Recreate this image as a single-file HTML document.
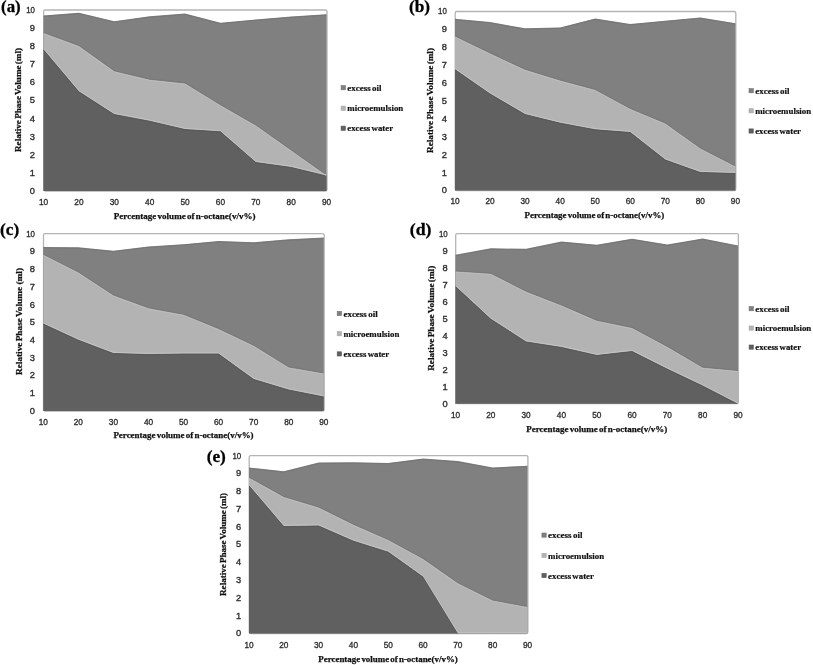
<!DOCTYPE html>
<html><head><meta charset="utf-8"><title>Relative phase volume vs n-octane</title>
<style>
html,body{margin:0;padding:0;background:#fff;width:813px;height:665px;overflow:hidden}
svg{display:block;filter:blur(0.35px)}
.tk{font-family:"Liberation Sans", Arial, sans-serif;font-size:9.3px;fill:#2e2e2e;stroke:#2e2e2e;stroke-width:0.35px}
.tt{font-family:"Liberation Serif", "Times New Roman", serif;font-weight:bold;font-size:8.8px;fill:#111;stroke:#111;stroke-width:0.25px;word-spacing:-1px}
.lg{font-family:"Liberation Serif", "Times New Roman", serif;font-weight:bold;font-size:8.7px;fill:#111;stroke:#111;stroke-width:0.2px;word-spacing:-0.9px}
.pl{font-family:"Liberation Serif", "Times New Roman", serif;font-weight:bold;font-size:17.5px;fill:#000;stroke:#000;stroke-width:0.3px}
</style></head><body>
<svg width="813" height="665" viewBox="0 0 813 665">
<rect width="813" height="665" fill="#fff"/>
<g><clipPath id="clipa"><rect x="43.5" y="10" width="283.1" height="181"/></clipPath><rect x="43.7" y="10" width="283.3" height="181" fill="#fff" stroke="#b4b4b4" stroke-width="1.3" rx="1.5"/><polygon points="43.5,15.43 78.89,12.72 114.28,21.22 149.66,16.33 185.05,13.62 220.44,22.85 255.83,19.41 291.21,16.52 326.6,14.16 326.6,191 43.5,191" fill="#808080"/><polygon points="43.5,32.99 78.89,46.02 114.28,71.36 149.66,79.68 185.05,83.49 220.44,105.21 255.83,125.48 291.21,150.46 326.6,175.62 326.6,191 43.5,191" fill="#b3b3b3"/><polygon points="43.5,49.28 78.89,91.27 114.28,114.08 149.66,120.77 185.05,129.1 220.44,131.27 255.83,162.04 291.21,166.93 326.6,175.62 326.6,191 43.5,191" fill="#606060"/><g clip-path="url(#clipa)"><polyline points="43.5,16.33 78.89,13.62 114.28,22.12 149.66,17.23 185.05,14.52 220.44,23.75 255.83,20.31 291.21,17.42 326.6,15.06" fill="none" stroke="#727272" stroke-width="0.9" stroke-opacity="0.8" stroke-linejoin="round"/><polyline points="43.5,32.19 78.89,45.22 114.28,70.56 149.66,78.88 185.05,82.69 220.44,104.41 255.83,124.68 291.21,149.66 326.6,174.81" fill="none" stroke="#747474" stroke-width="0.9" stroke-opacity="0.6" stroke-linejoin="round"/><polyline points="43.5,33.79 78.89,46.82 114.28,72.16 149.66,80.48 185.05,84.29 220.44,106.01 255.83,126.28 291.21,151.26 326.6,176.42" fill="none" stroke="#bfbfbf" stroke-width="0.9" stroke-opacity="0.8" stroke-linejoin="round"/><polyline points="43.5,48.58 78.89,90.57 114.28,113.38 149.66,120.07 185.05,128.4 220.44,130.57 255.83,161.34 291.21,166.23 326.6,174.92" fill="none" stroke="#c6c6c6" stroke-width="0.9" stroke-opacity="0.9" stroke-linejoin="round"/><polyline points="43.5,50.08 78.89,92.07 114.28,114.88 149.66,121.57 185.05,129.9 220.44,132.07 255.83,162.84 291.21,167.73 326.6,176.42" fill="none" stroke="#565656" stroke-width="0.9" stroke-opacity="0.8" stroke-linejoin="round"/></g><text x="35" y="193.9" text-anchor="end" class="tk">0</text><text x="35" y="175.8" text-anchor="end" class="tk">1</text><text x="35" y="157.7" text-anchor="end" class="tk">2</text><text x="35" y="139.6" text-anchor="end" class="tk">3</text><text x="35" y="121.5" text-anchor="end" class="tk">4</text><text x="35" y="103.4" text-anchor="end" class="tk">5</text><text x="35" y="85.3" text-anchor="end" class="tk">6</text><text x="35" y="67.2" text-anchor="end" class="tk">7</text><text x="35" y="49.1" text-anchor="end" class="tk">8</text><text x="35" y="31" text-anchor="end" class="tk">9</text><text x="35" y="12.9" text-anchor="end" class="tk" textLength="8.8" lengthAdjust="spacingAndGlyphs">10</text><text x="43.5" y="205" text-anchor="middle" class="tk" textLength="9.2" lengthAdjust="spacingAndGlyphs">10</text><text x="78.89" y="205" text-anchor="middle" class="tk" textLength="9.2" lengthAdjust="spacingAndGlyphs">20</text><text x="114.28" y="205" text-anchor="middle" class="tk" textLength="9.2" lengthAdjust="spacingAndGlyphs">30</text><text x="149.66" y="205" text-anchor="middle" class="tk" textLength="9.2" lengthAdjust="spacingAndGlyphs">40</text><text x="185.05" y="205" text-anchor="middle" class="tk" textLength="9.2" lengthAdjust="spacingAndGlyphs">50</text><text x="220.44" y="205" text-anchor="middle" class="tk" textLength="9.2" lengthAdjust="spacingAndGlyphs">60</text><text x="255.83" y="205" text-anchor="middle" class="tk" textLength="9.2" lengthAdjust="spacingAndGlyphs">70</text><text x="291.21" y="205" text-anchor="middle" class="tk" textLength="9.2" lengthAdjust="spacingAndGlyphs">80</text><text x="326.6" y="205" text-anchor="middle" class="tk" textLength="9.2" lengthAdjust="spacingAndGlyphs">90</text><text x="113.8" y="218.6" class="tt" textLength="141.7" lengthAdjust="spacingAndGlyphs">Percentage volume of n-octane(v/v%)</text><text transform="translate(21.2,100) rotate(-90)" x="-52" y="0" class="tt" textLength="104" lengthAdjust="spacingAndGlyphs" xml:space="preserve">Relative Phase Volume (ml)</text><rect x="341.1" y="85.6" width="4.3" height="4.2" fill="#808080" stroke="#707070" stroke-width="0.6"/><text x="347.3" y="90.8" class="lg" textLength="34.3" lengthAdjust="spacingAndGlyphs">excess oil</text><rect x="341.1" y="106.1" width="4.3" height="4.2" fill="#b3b3b3" stroke="#a6a6a6" stroke-width="0.6"/><text x="347.3" y="111.3" class="lg" textLength="56.0" lengthAdjust="spacingAndGlyphs">microemulsion</text><rect x="341.1" y="126.1" width="4.3" height="4.2" fill="#606060" stroke="#555555" stroke-width="0.6"/><text x="347.3" y="131.3" class="lg" textLength="45.8" lengthAdjust="spacingAndGlyphs">excess water</text><text x="1.1" y="12.1" class="pl" textLength="19.6" lengthAdjust="spacingAndGlyphs">(a)</text></g>
<g><clipPath id="clipb"><rect x="455" y="11.5" width="280.4" height="179"/></clipPath><rect x="455.2" y="11.5" width="280.6" height="179" fill="#fff" stroke="#b4b4b4" stroke-width="1.3" rx="1.5"/><polygon points="455,18.84 490.05,22.06 525.1,28.33 560.15,27.43 595.2,18.48 630.25,24.03 665.3,20.63 700.35,17.41 735.4,23.14 735.4,190.5 455,190.5" fill="#808080"/><polygon points="455,36.38 490.05,53.39 525.1,69.85 560.15,80.59 595.2,89.9 630.25,108.88 665.3,123.55 700.35,148.44 735.4,166.51 735.4,190.5 455,190.5" fill="#b3b3b3"/><polygon points="455,69.14 490.05,93.48 525.1,114.07 560.15,122.66 595.2,129.28 630.25,131.97 665.3,159.53 700.35,172.06 735.4,172.96 735.4,190.5 455,190.5" fill="#606060"/><g clip-path="url(#clipb)"><polyline points="455,19.74 490.05,22.96 525.1,29.23 560.15,28.33 595.2,19.38 630.25,24.93 665.3,21.53 700.35,18.31 735.4,24.04" fill="none" stroke="#727272" stroke-width="0.9" stroke-opacity="0.8" stroke-linejoin="round"/><polyline points="455,35.58 490.05,52.59 525.1,69.05 560.15,79.79 595.2,89.1 630.25,108.08 665.3,122.75 700.35,147.63 735.4,165.71" fill="none" stroke="#747474" stroke-width="0.9" stroke-opacity="0.6" stroke-linejoin="round"/><polyline points="455,37.18 490.05,54.19 525.1,70.65 560.15,81.39 595.2,90.7 630.25,109.68 665.3,124.35 700.35,149.24 735.4,167.31" fill="none" stroke="#bfbfbf" stroke-width="0.9" stroke-opacity="0.8" stroke-linejoin="round"/><polyline points="455,68.44 490.05,92.78 525.1,113.37 560.15,121.96 595.2,128.58 630.25,131.27 665.3,158.83 700.35,171.36 735.4,172.26" fill="none" stroke="#c6c6c6" stroke-width="0.9" stroke-opacity="0.9" stroke-linejoin="round"/><polyline points="455,69.94 490.05,94.28 525.1,114.87 560.15,123.46 595.2,130.08 630.25,132.77 665.3,160.33 700.35,172.86 735.4,173.76" fill="none" stroke="#565656" stroke-width="0.9" stroke-opacity="0.8" stroke-linejoin="round"/></g><text x="446.8" y="193.4" text-anchor="end" class="tk">0</text><text x="446.8" y="175.5" text-anchor="end" class="tk">1</text><text x="446.8" y="157.6" text-anchor="end" class="tk">2</text><text x="446.8" y="139.7" text-anchor="end" class="tk">3</text><text x="446.8" y="121.8" text-anchor="end" class="tk">4</text><text x="446.8" y="103.9" text-anchor="end" class="tk">5</text><text x="446.8" y="86" text-anchor="end" class="tk">6</text><text x="446.8" y="68.1" text-anchor="end" class="tk">7</text><text x="446.8" y="50.2" text-anchor="end" class="tk">8</text><text x="446.8" y="32.3" text-anchor="end" class="tk">9</text><text x="446.8" y="14.4" text-anchor="end" class="tk" textLength="8.8" lengthAdjust="spacingAndGlyphs">10</text><text x="455" y="204.4" text-anchor="middle" class="tk" textLength="9.2" lengthAdjust="spacingAndGlyphs">10</text><text x="490.05" y="204.4" text-anchor="middle" class="tk" textLength="9.2" lengthAdjust="spacingAndGlyphs">20</text><text x="525.1" y="204.4" text-anchor="middle" class="tk" textLength="9.2" lengthAdjust="spacingAndGlyphs">30</text><text x="560.15" y="204.4" text-anchor="middle" class="tk" textLength="9.2" lengthAdjust="spacingAndGlyphs">40</text><text x="595.2" y="204.4" text-anchor="middle" class="tk" textLength="9.2" lengthAdjust="spacingAndGlyphs">50</text><text x="630.25" y="204.4" text-anchor="middle" class="tk" textLength="9.2" lengthAdjust="spacingAndGlyphs">60</text><text x="665.3" y="204.4" text-anchor="middle" class="tk" textLength="9.2" lengthAdjust="spacingAndGlyphs">70</text><text x="700.35" y="204.4" text-anchor="middle" class="tk" textLength="9.2" lengthAdjust="spacingAndGlyphs">80</text><text x="735.4" y="204.4" text-anchor="middle" class="tk" textLength="9.2" lengthAdjust="spacingAndGlyphs">90</text><text x="524.6" y="218.2" class="tt" textLength="139.7" lengthAdjust="spacingAndGlyphs">Percentage volume of n-octane(v/v%)</text><text transform="translate(432.6,100.5) rotate(-90)" x="-52.5" y="0" class="tt" textLength="105" lengthAdjust="spacingAndGlyphs" xml:space="preserve">Relative Phase Volume (ml)</text><rect x="749" y="88.6" width="4.3" height="4.2" fill="#808080" stroke="#707070" stroke-width="0.6"/><text x="755.2" y="93.8" class="lg" textLength="34.3" lengthAdjust="spacingAndGlyphs">excess oil</text><rect x="749" y="108.7" width="4.3" height="4.2" fill="#b3b3b3" stroke="#a6a6a6" stroke-width="0.6"/><text x="755.2" y="113.9" class="lg" textLength="56.0" lengthAdjust="spacingAndGlyphs">microemulsion</text><rect x="749" y="128.9" width="4.3" height="4.2" fill="#606060" stroke="#555555" stroke-width="0.6"/><text x="755.2" y="134.1" class="lg" textLength="45.8" lengthAdjust="spacingAndGlyphs">excess water</text><text x="408.9" y="11.9" class="pl" textLength="21.1" lengthAdjust="spacingAndGlyphs">(b)</text></g>
<g><clipPath id="clipc"><rect x="43.3" y="233.7" width="280.5" height="177.3"/></clipPath><rect x="43.5" y="233.7" width="280.7" height="177.3" fill="#fff" stroke="#b4b4b4" stroke-width="1.3" rx="1.5"/><polygon points="43.3,247 78.36,247.35 113.42,250.72 148.49,246.47 183.55,244.16 218.61,240.97 253.68,242.21 288.74,239.37 323.8,237.6 323.8,411 43.3,411" fill="#808080"/><polygon points="43.3,254.8 78.36,272.53 113.42,295.4 148.49,308.34 183.55,314.73 218.61,329.09 253.68,345.75 288.74,367.38 323.8,373.41 323.8,411 43.3,411" fill="#b3b3b3"/><polygon points="43.3,323.59 78.36,339.73 113.42,353.02 148.49,354.09 183.55,353.55 218.61,353.55 253.68,378.91 288.74,389.55 323.8,396.46 323.8,411 43.3,411" fill="#606060"/><g clip-path="url(#clipc)"><polyline points="43.3,247.9 78.36,248.25 113.42,251.62 148.49,247.37 183.55,245.06 218.61,241.87 253.68,243.11 288.74,240.27 323.8,238.5" fill="none" stroke="#727272" stroke-width="0.9" stroke-opacity="0.8" stroke-linejoin="round"/><polyline points="43.3,254 78.36,271.73 113.42,294.6 148.49,307.54 183.55,313.93 218.61,328.29 253.68,344.95 288.74,366.58 323.8,372.61" fill="none" stroke="#747474" stroke-width="0.9" stroke-opacity="0.6" stroke-linejoin="round"/><polyline points="43.3,255.6 78.36,273.33 113.42,296.2 148.49,309.14 183.55,315.53 218.61,329.89 253.68,346.55 288.74,368.18 323.8,374.21" fill="none" stroke="#bfbfbf" stroke-width="0.9" stroke-opacity="0.8" stroke-linejoin="round"/><polyline points="43.3,322.89 78.36,339.03 113.42,352.32 148.49,353.39 183.55,352.85 218.61,352.85 253.68,378.21 288.74,388.85 323.8,395.76" fill="none" stroke="#c6c6c6" stroke-width="0.9" stroke-opacity="0.9" stroke-linejoin="round"/><polyline points="43.3,324.39 78.36,340.53 113.42,353.82 148.49,354.89 183.55,354.35 218.61,354.35 253.68,379.71 288.74,390.35 323.8,397.26" fill="none" stroke="#565656" stroke-width="0.9" stroke-opacity="0.8" stroke-linejoin="round"/></g><text x="35" y="413.9" text-anchor="end" class="tk">0</text><text x="35" y="396.17" text-anchor="end" class="tk">1</text><text x="35" y="378.44" text-anchor="end" class="tk">2</text><text x="35" y="360.71" text-anchor="end" class="tk">3</text><text x="35" y="342.98" text-anchor="end" class="tk">4</text><text x="35" y="325.25" text-anchor="end" class="tk">5</text><text x="35" y="307.52" text-anchor="end" class="tk">6</text><text x="35" y="289.79" text-anchor="end" class="tk">7</text><text x="35" y="272.06" text-anchor="end" class="tk">8</text><text x="35" y="254.33" text-anchor="end" class="tk">9</text><text x="35" y="236.6" text-anchor="end" class="tk" textLength="8.8" lengthAdjust="spacingAndGlyphs">10</text><text x="43.3" y="424.8" text-anchor="middle" class="tk" textLength="9.2" lengthAdjust="spacingAndGlyphs">10</text><text x="78.36" y="424.8" text-anchor="middle" class="tk" textLength="9.2" lengthAdjust="spacingAndGlyphs">20</text><text x="113.42" y="424.8" text-anchor="middle" class="tk" textLength="9.2" lengthAdjust="spacingAndGlyphs">30</text><text x="148.49" y="424.8" text-anchor="middle" class="tk" textLength="9.2" lengthAdjust="spacingAndGlyphs">40</text><text x="183.55" y="424.8" text-anchor="middle" class="tk" textLength="9.2" lengthAdjust="spacingAndGlyphs">50</text><text x="218.61" y="424.8" text-anchor="middle" class="tk" textLength="9.2" lengthAdjust="spacingAndGlyphs">60</text><text x="253.68" y="424.8" text-anchor="middle" class="tk" textLength="9.2" lengthAdjust="spacingAndGlyphs">70</text><text x="288.74" y="424.8" text-anchor="middle" class="tk" textLength="9.2" lengthAdjust="spacingAndGlyphs">80</text><text x="323.8" y="424.8" text-anchor="middle" class="tk" textLength="9.2" lengthAdjust="spacingAndGlyphs">90</text><text x="113.4" y="437.5" class="tt" textLength="140.2" lengthAdjust="spacingAndGlyphs">Percentage volume of n-octane(v/v%)</text><text transform="translate(21.9,321.5) rotate(-90)" x="-53.5" y="0" class="tt" textLength="107" lengthAdjust="spacingAndGlyphs" xml:space="preserve">Relative Phase Volume  (ml)</text><rect x="337.2" y="311.4" width="4.3" height="4.2" fill="#808080" stroke="#707070" stroke-width="0.6"/><text x="343.4" y="316.6" class="lg" textLength="34.3" lengthAdjust="spacingAndGlyphs">excess oil</text><rect x="337.2" y="331.6" width="4.3" height="4.2" fill="#b3b3b3" stroke="#a6a6a6" stroke-width="0.6"/><text x="343.4" y="336.8" class="lg" textLength="56.0" lengthAdjust="spacingAndGlyphs">microemulsion</text><rect x="337.2" y="351.8" width="4.3" height="4.2" fill="#606060" stroke="#555555" stroke-width="0.6"/><text x="343.4" y="357" class="lg" textLength="45.8" lengthAdjust="spacingAndGlyphs">excess water</text><text x="0" y="234.8" class="pl" textLength="19.2" lengthAdjust="spacingAndGlyphs">(c)</text></g>
<g><clipPath id="clipd"><rect x="455.5" y="233.7" width="282.5" height="170"/></clipPath><rect x="455.7" y="233.7" width="282.7" height="170" fill="#fff" stroke="#b4b4b4" stroke-width="1.3" rx="1.5"/><polygon points="455.5,254.78 490.81,248.32 526.12,248.83 561.44,241.52 596.75,244.75 632.06,238.63 667.38,244.58 702.69,238.46 738,245.43 738,403.7 455.5,403.7" fill="#808080"/><polygon points="455.5,271.44 490.81,273.82 526.12,291.67 561.44,305.44 596.75,320.74 632.06,328.05 667.38,346.92 702.69,367.66 738,370.89 738,403.7 455.5,403.7" fill="#b3b3b3"/><polygon points="455.5,286.06 490.81,318.7 526.12,341.48 561.44,346.92 596.75,354.91 632.06,351 667.38,368.68 702.69,385.51 738,403.7 738,403.7 455.5,403.7" fill="#606060"/><g clip-path="url(#clipd)"><polyline points="455.5,255.68 490.81,249.22 526.12,249.73 561.44,242.42 596.75,245.65 632.06,239.53 667.38,245.48 702.69,239.36 738,246.33" fill="none" stroke="#727272" stroke-width="0.9" stroke-opacity="0.8" stroke-linejoin="round"/><polyline points="455.5,270.64 490.81,273.02 526.12,290.87 561.44,304.64 596.75,319.94 632.06,327.25 667.38,346.12 702.69,366.86 738,370.09" fill="none" stroke="#747474" stroke-width="0.9" stroke-opacity="0.6" stroke-linejoin="round"/><polyline points="455.5,272.24 490.81,274.62 526.12,292.47 561.44,306.24 596.75,321.54 632.06,328.85 667.38,347.72 702.69,368.46 738,371.69" fill="none" stroke="#bfbfbf" stroke-width="0.9" stroke-opacity="0.8" stroke-linejoin="round"/><polyline points="455.5,285.36 490.81,318 526.12,340.78 561.44,346.22 596.75,354.21 632.06,350.3 667.38,367.98 702.69,384.81 738,403" fill="none" stroke="#c6c6c6" stroke-width="0.9" stroke-opacity="0.9" stroke-linejoin="round"/><polyline points="455.5,286.86 490.81,319.5 526.12,342.28 561.44,347.72 596.75,355.71 632.06,351.8 667.38,369.48 702.69,386.31 738,404.5" fill="none" stroke="#565656" stroke-width="0.9" stroke-opacity="0.8" stroke-linejoin="round"/></g><text x="447.7" y="406.6" text-anchor="end" class="tk">0</text><text x="447.7" y="389.6" text-anchor="end" class="tk">1</text><text x="447.7" y="372.6" text-anchor="end" class="tk">2</text><text x="447.7" y="355.6" text-anchor="end" class="tk">3</text><text x="447.7" y="338.6" text-anchor="end" class="tk">4</text><text x="447.7" y="321.6" text-anchor="end" class="tk">5</text><text x="447.7" y="304.6" text-anchor="end" class="tk">6</text><text x="447.7" y="287.6" text-anchor="end" class="tk">7</text><text x="447.7" y="270.6" text-anchor="end" class="tk">8</text><text x="447.7" y="253.6" text-anchor="end" class="tk">9</text><text x="447.7" y="236.6" text-anchor="end" class="tk" textLength="8.8" lengthAdjust="spacingAndGlyphs">10</text><text x="455.5" y="418" text-anchor="middle" class="tk" textLength="9.2" lengthAdjust="spacingAndGlyphs">10</text><text x="490.81" y="418" text-anchor="middle" class="tk" textLength="9.2" lengthAdjust="spacingAndGlyphs">20</text><text x="526.12" y="418" text-anchor="middle" class="tk" textLength="9.2" lengthAdjust="spacingAndGlyphs">30</text><text x="561.44" y="418" text-anchor="middle" class="tk" textLength="9.2" lengthAdjust="spacingAndGlyphs">40</text><text x="596.75" y="418" text-anchor="middle" class="tk" textLength="9.2" lengthAdjust="spacingAndGlyphs">50</text><text x="632.06" y="418" text-anchor="middle" class="tk" textLength="9.2" lengthAdjust="spacingAndGlyphs">60</text><text x="667.38" y="418" text-anchor="middle" class="tk" textLength="9.2" lengthAdjust="spacingAndGlyphs">70</text><text x="702.69" y="418" text-anchor="middle" class="tk" textLength="9.2" lengthAdjust="spacingAndGlyphs">80</text><text x="738" y="418" text-anchor="middle" class="tk" textLength="9.2" lengthAdjust="spacingAndGlyphs">90</text><text x="526.3" y="431.9" class="tt" textLength="141" lengthAdjust="spacingAndGlyphs">Percentage volume of n-octane(v/v%)</text><text transform="translate(433.6,318.3) rotate(-90)" x="-52.5" y="0" class="tt" textLength="105" lengthAdjust="spacingAndGlyphs" xml:space="preserve">Relative Phase Volume (ml)</text><rect x="749.1" y="306.6" width="4.3" height="4.2" fill="#808080" stroke="#707070" stroke-width="0.6"/><text x="755.3" y="311.8" class="lg" textLength="34.3" lengthAdjust="spacingAndGlyphs">excess oil</text><rect x="749.1" y="326" width="4.3" height="4.2" fill="#b3b3b3" stroke="#a6a6a6" stroke-width="0.6"/><text x="755.3" y="331.2" class="lg" textLength="56.0" lengthAdjust="spacingAndGlyphs">microemulsion</text><rect x="749.1" y="345" width="4.3" height="4.2" fill="#606060" stroke="#555555" stroke-width="0.6"/><text x="755.3" y="350.2" class="lg" textLength="45.8" lengthAdjust="spacingAndGlyphs">excess water</text><text x="409.8" y="235.2" class="pl" textLength="21.7" lengthAdjust="spacingAndGlyphs">(d)</text></g>
<g><clipPath id="clipe"><rect x="249" y="455.6" width="278.5" height="177.9"/></clipPath><rect x="249.2" y="455.6" width="278.7" height="177.9" fill="#fff" stroke="#b4b4b4" stroke-width="1.3" rx="1.5"/><polygon points="249,467.52 283.81,471.26 318.62,462.54 353.44,462.36 388.25,462.89 423.06,458.62 457.88,461.11 492.69,467.52 527.5,465.74 527.5,633.5 249,633.5" fill="#808080"/><polygon points="249,477.66 283.81,497.05 318.62,507.55 353.44,524.8 388.25,540.1 423.06,558.96 457.88,583.33 492.69,600.59 527.5,606.99 527.5,633.5 249,633.5" fill="#b3b3b3"/><polygon points="249,485.13 283.81,526.05 318.62,525.51 353.44,540.64 388.25,551.67 423.06,576.57 457.88,633.5 492.69,633.5 527.5,633.5 527.5,633.5 249,633.5" fill="#606060"/><g clip-path="url(#clipe)"><polyline points="249,468.42 283.81,472.16 318.62,463.44 353.44,463.26 388.25,463.79 423.06,459.52 457.88,462.01 492.69,468.42 527.5,466.64" fill="none" stroke="#727272" stroke-width="0.9" stroke-opacity="0.8" stroke-linejoin="round"/><polyline points="249,476.86 283.81,496.25 318.62,506.75 353.44,524 388.25,539.3 423.06,558.16 457.88,582.53 492.69,599.79 527.5,606.19" fill="none" stroke="#747474" stroke-width="0.9" stroke-opacity="0.6" stroke-linejoin="round"/><polyline points="249,478.46 283.81,497.85 318.62,508.35 353.44,525.6 388.25,540.9 423.06,559.76 457.88,584.13 492.69,601.39 527.5,607.79" fill="none" stroke="#bfbfbf" stroke-width="0.9" stroke-opacity="0.8" stroke-linejoin="round"/><polyline points="249,484.43 283.81,525.35 318.62,524.81 353.44,539.94 388.25,550.97 423.06,575.87 457.88,632.8 492.69,632.8 527.5,632.8" fill="none" stroke="#c6c6c6" stroke-width="0.9" stroke-opacity="0.9" stroke-linejoin="round"/><polyline points="249,485.93 283.81,526.85 318.62,526.31 353.44,541.44 388.25,552.47 423.06,577.37 457.88,634.3 492.69,634.3 527.5,634.3" fill="none" stroke="#565656" stroke-width="0.9" stroke-opacity="0.8" stroke-linejoin="round"/></g><text x="241.2" y="636.4" text-anchor="end" class="tk">0</text><text x="241.2" y="618.61" text-anchor="end" class="tk">1</text><text x="241.2" y="600.82" text-anchor="end" class="tk">2</text><text x="241.2" y="583.03" text-anchor="end" class="tk">3</text><text x="241.2" y="565.24" text-anchor="end" class="tk">4</text><text x="241.2" y="547.45" text-anchor="end" class="tk">5</text><text x="241.2" y="529.66" text-anchor="end" class="tk">6</text><text x="241.2" y="511.87" text-anchor="end" class="tk">7</text><text x="241.2" y="494.08" text-anchor="end" class="tk">8</text><text x="241.2" y="476.29" text-anchor="end" class="tk">9</text><text x="241.2" y="458.5" text-anchor="end" class="tk" textLength="8.8" lengthAdjust="spacingAndGlyphs">10</text><text x="249" y="647.8" text-anchor="middle" class="tk" textLength="9.2" lengthAdjust="spacingAndGlyphs">10</text><text x="283.81" y="647.8" text-anchor="middle" class="tk" textLength="9.2" lengthAdjust="spacingAndGlyphs">20</text><text x="318.62" y="647.8" text-anchor="middle" class="tk" textLength="9.2" lengthAdjust="spacingAndGlyphs">30</text><text x="353.44" y="647.8" text-anchor="middle" class="tk" textLength="9.2" lengthAdjust="spacingAndGlyphs">40</text><text x="388.25" y="647.8" text-anchor="middle" class="tk" textLength="9.2" lengthAdjust="spacingAndGlyphs">50</text><text x="423.06" y="647.8" text-anchor="middle" class="tk" textLength="9.2" lengthAdjust="spacingAndGlyphs">60</text><text x="457.88" y="647.8" text-anchor="middle" class="tk" textLength="9.2" lengthAdjust="spacingAndGlyphs">70</text><text x="492.69" y="647.8" text-anchor="middle" class="tk" textLength="9.2" lengthAdjust="spacingAndGlyphs">80</text><text x="527.5" y="647.8" text-anchor="middle" class="tk" textLength="9.2" lengthAdjust="spacingAndGlyphs">90</text><text x="318.3" y="661.7" class="tt" textLength="139.5" lengthAdjust="spacingAndGlyphs">Percentage volume of n-octane(v/v%)</text><text transform="translate(226.4,544.4) rotate(-90)" x="-51.5" y="0" class="tt" textLength="103" lengthAdjust="spacingAndGlyphs" xml:space="preserve">Relative Phase Volume (ml)</text><rect x="541.9" y="533" width="4.3" height="4.2" fill="#808080" stroke="#707070" stroke-width="0.6"/><text x="548.1" y="538.2" class="lg" textLength="34.3" lengthAdjust="spacingAndGlyphs">excess oil</text><rect x="541.9" y="553.3" width="4.3" height="4.2" fill="#b3b3b3" stroke="#a6a6a6" stroke-width="0.6"/><text x="548.1" y="558.5" class="lg" textLength="56.0" lengthAdjust="spacingAndGlyphs">microemulsion</text><rect x="541.9" y="573.4" width="4.3" height="4.2" fill="#606060" stroke="#555555" stroke-width="0.6"/><text x="548.1" y="578.6" class="lg" textLength="45.8" lengthAdjust="spacingAndGlyphs">excess water</text><text x="206.7" y="461.7" class="pl" textLength="19.2" lengthAdjust="spacingAndGlyphs">(e)</text></g>
</svg>
</body></html>
